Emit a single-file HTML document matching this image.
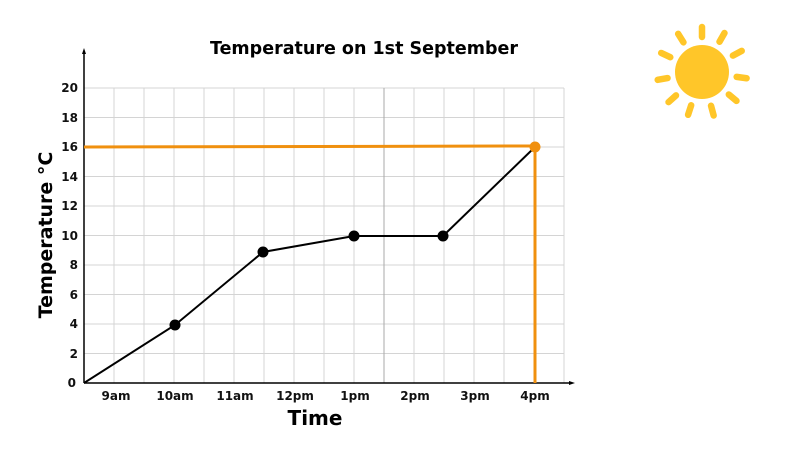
<!DOCTYPE html>
<html><head><style>
html,body{margin:0;padding:0;background:#fff;}
svg{display:block;font-family:"DejaVu Sans","Liberation Sans",sans-serif;}
</style></head><body>
<svg width="800" height="450" viewBox="0 0 800 450">
<g stroke="#d4d4d4" stroke-width="1">
<line x1="114" y1="88" x2="114" y2="383"/><line x1="144" y1="88" x2="144" y2="383"/><line x1="174" y1="88" x2="174" y2="383"/><line x1="204" y1="88" x2="204" y2="383"/><line x1="234" y1="88" x2="234" y2="383"/><line x1="264" y1="88" x2="264" y2="383"/><line x1="294" y1="88" x2="294" y2="383"/><line x1="324" y1="88" x2="324" y2="383"/><line x1="354" y1="88" x2="354" y2="383"/><line x1="414" y1="88" x2="414" y2="383"/><line x1="444" y1="88" x2="444" y2="383"/><line x1="474" y1="88" x2="474" y2="383"/><line x1="504" y1="88" x2="504" y2="383"/><line x1="534" y1="88" x2="534" y2="383"/><line x1="564" y1="88" x2="564" y2="383"/>
<line x1="84" y1="88" x2="564" y2="88"/><line x1="84" y1="117.5" x2="564" y2="117.5"/><line x1="84" y1="147" x2="564" y2="147"/><line x1="84" y1="176.5" x2="564" y2="176.5"/><line x1="84" y1="206" x2="564" y2="206"/><line x1="84" y1="235.5" x2="564" y2="235.5"/><line x1="84" y1="265" x2="564" y2="265"/><line x1="84" y1="294.5" x2="564" y2="294.5"/><line x1="84" y1="324" x2="564" y2="324"/><line x1="84" y1="353.5" x2="564" y2="353.5"/>
</g>
<line x1="384" y1="88" x2="384" y2="383" stroke="#aaa" stroke-width="1"/>
<g stroke="#000" stroke-width="1.5" fill="none">
<line x1="84" y1="383" x2="84" y2="52"/><line x1="84" y1="383" x2="570" y2="383"/>
</g>
<polygon points="84,48 82,54 86,54" fill="#000"/>
<polygon points="575,383 569,381 569,385" fill="#000"/>
<line x1="84" y1="147" x2="534" y2="146" stroke="#f0900f" stroke-width="3"/>
<line x1="535" y1="147" x2="535" y2="383" stroke="#f0900f" stroke-width="3"/>
<polyline points="84,383 175,325 263,252 354,236 443,236 535,147" fill="none" stroke="#000" stroke-width="2"/>
<g fill="#000"><circle cx="175" cy="325" r="5.5"/><circle cx="263" cy="252" r="5.5"/><circle cx="354" cy="236" r="5.5"/><circle cx="443" cy="236" r="5.5"/></g>
<circle cx="535" cy="147" r="5.5" fill="#f0900f"/>
<g font-size="12" font-weight="bold" text-anchor="end" fill="#111">
<text x="78" y="92">20</text><text x="78" y="122">18</text><text x="78" y="151">16</text><text x="78" y="181">14</text><text x="78" y="210">12</text><text x="78" y="240">10</text><text x="78" y="269">8</text><text x="78" y="299">6</text><text x="78" y="328">4</text><text x="78" y="358">2</text><text x="76" y="387">0</text>
</g>
<g font-size="12" font-weight="bold" text-anchor="middle" fill="#111">
<text x="116" y="400">9am</text><text x="175" y="400">10am</text><text x="235" y="400">11am</text><text x="295" y="400">12pm</text><text x="355" y="400">1pm</text><text x="415" y="400">2pm</text><text x="475" y="400">3pm</text><text x="535" y="400">4pm</text>
</g>
<text x="315" y="425" font-size="20" font-weight="bold" text-anchor="middle">Time</text>
<text transform="translate(52,235) rotate(-90)" font-size="19" font-weight="bold" text-anchor="middle">Temperature °C</text>
<text x="364" y="54" font-size="17.5" font-weight="bold" text-anchor="middle">Temperature on 1st September</text>
<g transform="translate(702,72)">
<circle r="27" fill="#ffc629"/>
<g stroke="#ffc629" stroke-width="6.5" stroke-linecap="round">
<line x1="0" y1="-35" x2="0" y2="-45" transform="rotate(0)"/>
<line x1="0" y1="-35" x2="0" y2="-45" transform="rotate(30)"/>
<line x1="0" y1="-35" x2="0" y2="-45" transform="rotate(62)"/>
<line x1="0" y1="-35" x2="0" y2="-45" transform="rotate(98)"/>
<line x1="0" y1="-35" x2="0" y2="-45" transform="rotate(130)"/>
<line x1="0" y1="-35" x2="0" y2="-45" transform="rotate(165)"/>
<line x1="0" y1="-35" x2="0" y2="-45" transform="rotate(198)"/>
<line x1="0" y1="-35" x2="0" y2="-45" transform="rotate(228)"/>
<line x1="0" y1="-35" x2="0" y2="-45" transform="rotate(260)"/>
<line x1="0" y1="-35" x2="0" y2="-45" transform="rotate(295)"/>
<line x1="0" y1="-35" x2="0" y2="-45" transform="rotate(328)"/>
</g>
</g>
</svg>
</body></html>
